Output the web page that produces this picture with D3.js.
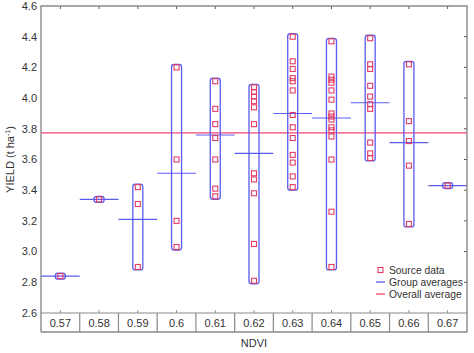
<!DOCTYPE html>
<html>
<head>
<meta charset="utf-8">
<script src="https://cdn.jsdelivr.net/npm/d3@7"></script>
<style>
  body { margin: 0; background: #fff; }
  svg { display: block; font-family: "Liberation Sans", Arial, sans-serif; }
</style>
</head>
<body>
<div class="chart"></div>
<script>
const categories = ["0.57", "0.58", "0.59", "0.6", "0.61", "0.62", "0.63", "0.64", "0.65", "0.66", "0.67"];

const sourceData = [
    [2.84],
    [3.34],
    [3.42, 3.31, 2.90],
    [4.20, 3.60, 3.20, 3.03],
    [4.11, 3.93, 3.83, 3.74, 3.60, 3.41, 3.36],
    [4.07, 4.04, 4.01, 3.98, 3.94, 3.83, 3.51, 3.47, 3.38, 3.05, 2.81],
    [4.40, 4.24, 4.19, 4.13, 4.11, 4.05, 3.89, 3.81, 3.74, 3.63, 3.58, 3.49, 3.42],
    [4.37, 4.14, 4.12, 4.10, 4.05, 3.99, 3.90, 3.88, 3.86, 3.81, 3.79, 3.75, 3.60, 3.26, 2.90],
    [4.39, 4.22, 4.19, 4.08, 4.01, 3.96, 3.93, 3.71, 3.64, 3.61],
    [4.22, 3.85, 3.72, 3.56, 3.18],
    [3.43]
];

const groupAverages = [2.84, 3.34, 3.21, 3.51, 3.76, 3.64, 3.90, 3.87, 3.97, 3.71, 3.43];
const overallAverage = 3.773;
const yTicks = [2.6, 2.8, 3.0, 3.2, 3.4, 3.6, 3.8, 4.0, 4.2, 4.4, 4.6];

const width = 474, height = 353;
const margin = { top: 6, right: 7, bottom: 40, left: 41 };
const rowH = 19;

const boxColor = "#5b5bef";
const pointColor = "#e23c62";
const overallColor = "#f0466e";
const frameColor = "#8a8a8a";

const x = d3.scaleBand()
    .domain(categories)
    .range([margin.left, width - margin.right])
    .padding(0);

const y = d3.scaleLinear()
    .domain([2.6, 4.6])
    .range([height - margin.bottom, margin.top]);

const svg = d3.select(".chart")
    .append("svg")
    .attr("width", width)
    .attr("height", height);

const x0 = margin.left, x1 = width - margin.right;
const yTop = margin.top, yBot = height - margin.bottom;
const cx = d => x(d) + x.bandwidth() / 2;

// y labels
svg.append("g")
    .selectAll("text")
    .data(yTicks)
    .join("text")
    .attr("x", x0 - 4)
    .attr("y", d => y(d))
    .attr("dy", "0.35em")
    .attr("text-anchor", "end")
    .attr("font-size", 11)
    .attr("fill", "#333")
    .text(d => d.toFixed(1));

// right ticks
svg.append("g")
    .selectAll("line")
    .data(yTicks.slice(1, -1))
    .join("line")
    .attr("x1", x1).attr("x2", x1 - 3)
    .attr("y1", d => y(d)).attr("y2", d => y(d))
    .attr("stroke", "#555");

// top and bottom ticks
svg.append("g")
    .selectAll("line")
    .data(categories)
    .join("line")
    .attr("x1", cx).attr("x2", cx)
    .attr("y1", yTop).attr("y2", yTop + 3)
    .attr("stroke", "#555");

svg.append("g")
    .selectAll("line")
    .data(categories)
    .join("line")
    .attr("x1", cx).attr("x2", cx)
    .attr("y1", yBot).attr("y2", yBot - 3)
    .attr("stroke", "#999");

// overall average
svg.append("line")
    .attr("x1", x0).attr("x2", x1)
    .attr("y1", y(overallAverage)).attr("y2", y(overallAverage))
    .attr("stroke", overallColor)
    .attr("stroke-width", 1.3);

// boxes (min-max)
svg.append("g")
    .selectAll("rect")
    .data(categories)
    .join("rect")
    .attr("x", d => cx(d) - 5)
    .attr("width", 10)
    .attr("y", (d, i) => y(d3.max(sourceData[i])) - 3)
    .attr("height", (d, i) => y(d3.min(sourceData[i])) - y(d3.max(sourceData[i])) + 6)
    .attr("rx", 2.5)
    .attr("fill", "none")
    .attr("stroke", boxColor)
    .attr("stroke-width", 1.3);

// group averages
svg.append("g")
    .selectAll("line")
    .data(categories)
    .join("line")
    .attr("x1", d => x(d)).attr("x2", d => x(d) + x.bandwidth())
    .attr("y1", (d, i) => y(groupAverages[i]))
    .attr("y2", (d, i) => y(groupAverages[i]))
    .attr("stroke", boxColor)
    .attr("stroke-width", 1.1);

// source points
svg.append("g")
    .selectAll("g")
    .data(categories)
    .join("g")
    .selectAll("rect")
    .data((d, i) => sourceData[i].map(v => ({ cat: d, v })))
    .join("rect")
    .attr("x", d => cx(d.cat) - 2.5)
    .attr("y", d => y(d.v) - 2.5)
    .attr("width", 5)
    .attr("height", 5)
    .attr("fill", "none")
    .attr("stroke", pointColor)
    .attr("stroke-width", 1.1);

// frame
svg.append("path")
    .attr("d", `M${x0},${yBot + rowH}V${yTop}H${x1}V${yBot + rowH}H${x0}`)
    .attr("fill", "none")
    .attr("stroke", frameColor)
    .attr("stroke-width", 1.4);

svg.append("line")
    .attr("x1", x0).attr("x2", x1)
    .attr("y1", yBot).attr("y2", yBot)
    .attr("stroke", frameColor)
    .attr("stroke-width", 1.2);

// category row separators + labels
svg.append("g")
    .selectAll("line")
    .data(categories.slice(1))
    .join("line")
    .attr("x1", d => x(d)).attr("x2", d => x(d))
    .attr("y1", yBot).attr("y2", yBot + rowH)
    .attr("stroke", frameColor)
    .attr("stroke-width", 1.2);

svg.append("g")
    .selectAll("text")
    .data(categories)
    .join("text")
    .attr("x", cx)
    .attr("y", yBot + rowH / 2 + 1)
    .attr("dy", "0.35em")
    .attr("text-anchor", "middle")
    .attr("font-size", 11)
    .attr("fill", "#333")
    .text(d => d);

// axis titles
svg.append("text")
    .attr("x", (x0 + x1) / 2)
    .attr("y", 347)
    .attr("text-anchor", "middle")
    .attr("font-size", 11)
    .attr("fill", "#333")
    .text("NDVI");

const yLabel = svg.append("text")
    .attr("transform", `translate(14,${(yTop + yBot) / 2}) rotate(-90)`)
    .attr("text-anchor", "middle")
    .attr("font-size", 11)
    .attr("fill", "#333");
yLabel.append("tspan").text("YIELD (t ha");
yLabel.append("tspan").attr("font-size", 7).attr("dy", -4).text("-1");
yLabel.append("tspan").attr("dy", 4).text(")");

// legend
const legend = svg.append("g").attr("transform", "translate(380,270)");
const legendItems = ["Source data", "Group averages", "Overall average"];
legend.selectAll("text")
    .data(legendItems)
    .join("text")
    .attr("x", 9)
    .attr("y", (d, i) => i * 12)
    .attr("dy", "0.35em")
    .attr("font-size", 10.3)
    .attr("fill", "#333")
    .text(d => d);
legend.append("rect")
    .attr("x", -2).attr("y", -2.5).attr("width", 5).attr("height", 5)
    .attr("fill", "none").attr("stroke", pointColor).attr("stroke-width", 1.1);
legend.append("line")
    .attr("x1", -4).attr("x2", 5).attr("y1", 12).attr("y2", 12)
    .attr("stroke", boxColor).attr("stroke-width", 1.3);
legend.append("line")
    .attr("x1", -4).attr("x2", 5).attr("y1", 24).attr("y2", 24)
    .attr("stroke", overallColor).attr("stroke-width", 1.3);
</script>
</body>
</html>
